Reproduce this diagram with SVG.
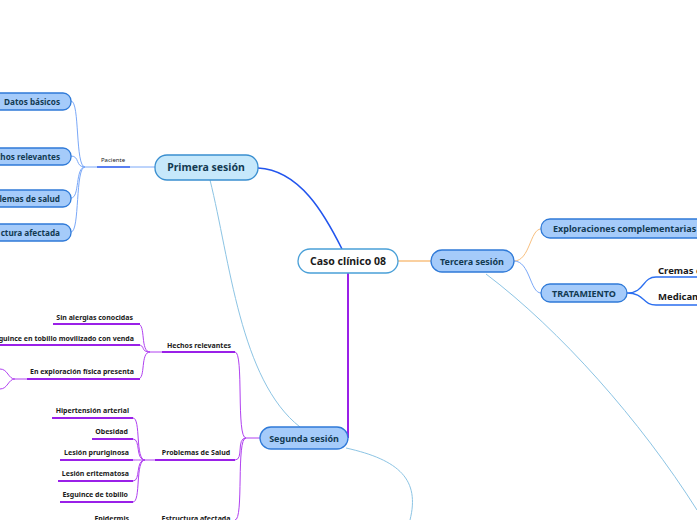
<svg xmlns="http://www.w3.org/2000/svg" width="697" height="520" viewBox="0 0 697 520">
<style>
text{font-family:"Noto Sans","Open Sans",sans-serif;font-weight:bold;fill:#1a1a1a}
.c{text-anchor:middle}
.r{text-anchor:end}
.box{fill:#a5cbfa;stroke:#2f7ad8;stroke-width:1.3}
.bt{font-size:9px;fill:#123a52}
.s{font-size:7px}
.pu{stroke:#b040f0;fill:none;stroke-width:1}
.pl{stroke:#9a20e8;fill:none;stroke-width:2}
.bl{stroke:#7aa8f8;fill:none;stroke-width:1}
.lb{stroke:#8cc4e4;fill:none;stroke-width:1}
</style>
<g id="connectors">
<path d="M342,249 C325,215 300,170 258,168" stroke="#2255ee" stroke-width="1.6" fill="none"/>
<path d="M348,273 V438" stroke="#9a20e8" stroke-width="2" fill="none"/>
<path d="M398,261 H431" stroke="#f8c080" stroke-width="1.5" fill="none"/>
<path d="M210,180 C230,260 240,380 300,427" class="lb"/>
<path d="M346,448 C400,460 420,480 410,520" class="lb"/>
<path d="M486,274 C560,330 640,420 697,510" class="lb"/>
<path d="M514,261 C530,261 530,229 541,229" stroke="#f8c080" fill="none"/>
<path d="M514,261 C530,261 530,293 541,293" class="bl"/>
<path d="M627,293 C645,293 642,277 656,277 H697 M627,293 C645,293 642,305 656,305 H697" stroke="#2a6ef0" stroke-width="1.3" fill="none"/>
<path d="M155,167 H130" class="bl"/>
<path d="M97,167 H130" stroke="#2255ee" stroke-width="1.5" fill="none"/>
<path d="M97,167 H85 M85,167 C75,167 80,101 71,101 M85,167 C75,167 80,156 71,156 M85,167 C75,167 80,198 71,198 M85,167 C75,167 80,232 71,232" class="bl"/>
<path d="M260,438 H246 M246,438 C236,438 244,352 235,352 M246,438 C236,438 244,460 235,460 M246,438 C236,438 244,520 235,520" class="pu"/>
<path d="M162,352 H235 M155,460 H235" class="pl"/>
<path d="M162,352 H150 M150,352 C140,352 146,324 138,324 M150,352 C140,352 146,345 138,345 M150,352 C140,352 146,379 138,379" class="pu"/>
<path d="M53,324 H140 M0,345 H140 M27,379 H140" class="pl"/>
<path d="M27,379 H15 M15,379 C8,379 8,369 0,369 M15,379 C8,379 8,389 0,389" class="pu"/>
<path d="M155,460 H145 M145,460 C135,460 141,418 133,418 M145,460 C135,460 141,439 133,439 M145,460 C135,460 141,460 133,460 M145,460 C135,460 141,481 133,481 M145,460 C135,460 141,502 133,502" class="pu"/>
<path d="M52,418 H133 M92,439 H133 M60,460 H133 M58,481 H133 M60,502 H133" class="pl"/>
</g>
<g id="n-central"><rect x="298" y="249" width="100" height="24" rx="12" fill="#fff" stroke="#4aa0d8" stroke-width="1.3"/><text x="348" y="265" class="c" font-size="10.5">Caso clínico 08</text></g>
<g id="n-primera"><rect x="155" y="155" width="103" height="25" rx="12" fill="#c6e8fb" stroke="#3a8fd0" stroke-width="1.3"/><text x="206" y="171" class="c" font-size="10.5" style="fill:#123a52">Primera sesión</text></g>
<g id="n-tercera"><rect x="431" y="250" width="83" height="22" rx="11" class="box"/><text x="472" y="264.5" class="c bt" font-size="8.5">Tercera sesión</text></g>
<g id="n-exploraciones"><rect x="541" y="219" width="170" height="19" rx="9" class="box"/><text x="553" y="232" class="bt">Exploraciones complementarias</text></g>
<g id="n-tratamiento"><rect x="541" y="284" width="86" height="18" rx="9" class="box"/><text x="584" y="296.5" class="c bt">TRATAMIENTO</text></g>
<g id="n-cremas"><text x="658" y="274" font-size="9.5">Cremas c</text></g>
<g id="n-medicam"><text x="658" y="300" font-size="9.5">Medicam</text></g>
<g id="n-segunda"><rect x="260" y="427" width="88" height="22" rx="11" class="box"/><text x="304" y="441.5" class="c bt" font-size="8.5">Segunda sesión</text></g>
<g id="n-paciente"><text x="113" y="162" class="c" font-size="6" style="font-weight:normal">Paciente</text></g>
<g id="n-datos"><rect x="-20" y="93" width="91" height="17" rx="8" class="box"/><text x="60" y="105" class="r bt" style="font-size:8.2px">Datos básicos</text></g>
<g id="n-hechos1"><rect x="-20" y="148" width="91" height="17" rx="8" class="box"/><text x="60" y="160" class="r bt" style="font-size:8.2px">chos relevantes</text></g>
<g id="n-problemas1"><rect x="-20" y="190" width="91" height="17" rx="8" class="box"/><text x="60" y="202" class="r bt" style="font-size:8.2px">lemas de salud</text></g>
<g id="n-estructura1"><rect x="-20" y="224" width="91" height="17" rx="8" class="box"/><text x="60" y="236" class="r bt" style="font-size:8.2px">ctura afectada</text></g>
<g id="n-hechos2"><text x="199" y="348" class="c s">Hechos relevantes</text></g>
<g id="n-sin"><text x="133" y="320" class="r s">Sin alergias conocidas</text></g>
<g id="n-esguince1"><text x="134" y="341" class="r s">guince en tobillo movilizado con venda</text></g>
<g id="n-exploracion"><text x="134" y="374" class="r s">En exploración física presenta</text></g>
<g id="n-problemas2"><text x="196" y="455" class="c s">Problemas de Salud</text></g>
<g id="n-hiper"><text x="129" y="413" class="r s">Hipertensión arterial</text></g>
<g id="n-obesidad"><text x="128" y="434" class="r s">Obesidad</text></g>
<g id="n-prurig"><text x="129" y="455" class="r s">Lesión pruriginosa</text></g>
<g id="n-eritem"><text x="129" y="476" class="r s">Lesión eritematosa</text></g>
<g id="n-esguince2"><text x="128" y="497" class="r s">Esguince de tobillo</text></g>
<g id="n-estructura2"><text x="196" y="521" class="c s">Estructura afectada</text></g>
<g id="n-epidermis"><text x="129" y="521" class="r s">Epidermis</text></g>
</svg>
